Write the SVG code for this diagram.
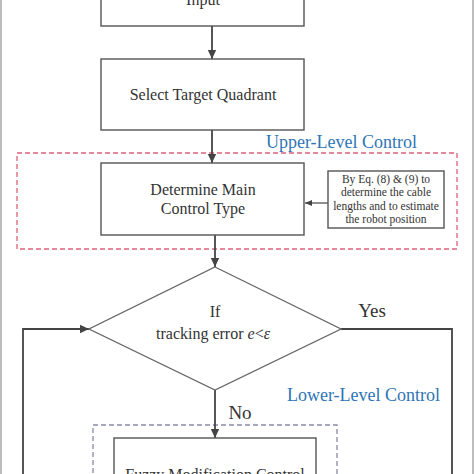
<svg xmlns="http://www.w3.org/2000/svg" width="474" height="474" viewBox="0 0 474 474">
<defs>
<style>
.box{fill:#fff;stroke:#555;stroke-width:1.4}
.t{font-family:"Liberation Serif","Times New Roman",serif;fill:#333;text-anchor:middle}
.c{stroke:#444;stroke-width:1.8;fill:none}
.lbl{font-family:"Liberation Serif","Times New Roman",serif;fill:#2e75b6;font-size:18px}
</style>
<marker id="ah" markerWidth="10" markerHeight="10" refX="9" refY="5" orient="auto" markerUnits="userSpaceOnUse">
<path d="M0,0.8 L9,5 L0,9.2 Z" fill="#444"/>
</marker>
<marker id="ahs" markerWidth="8" markerHeight="8" refX="7" refY="4" orient="auto" markerUnits="userSpaceOnUse">
<path d="M0,1 L7,4 L0,7 Z" fill="#444"/>
</marker>
</defs>
<rect x="0" y="0" width="474" height="474" fill="#fff"/>
<rect x="0" y="0" width="2" height="474" fill="#bdbdbd"/>
<rect x="472" y="0" width="2" height="474" fill="#bdbdbd"/>

<g id="upper-region">
<rect x="17" y="153" width="440" height="96" fill="none" stroke="#e0607a" stroke-width="1.3" stroke-dasharray="5,3"/>
<text class="lbl" x="266" y="148">Upper-Level Control</text>
</g>
<g id="lower-region">
<rect x="93" y="425" width="244" height="60" fill="none" stroke="#8a8aaa" stroke-width="1.3" stroke-dasharray="5,3"/>
<text class="lbl" x="287" y="401">Lower-Level Control</text>
</g>

<g id="connectors">
<line class="c" x1="212" y1="26" x2="212" y2="59" marker-end="url(#ah)"/>
<line class="c" x1="212" y1="130" x2="212" y2="163" marker-end="url(#ah)"/>
<line class="c" x1="215" y1="235" x2="215" y2="267" marker-end="url(#ah)"/>
<line x1="328" y1="203" x2="305" y2="203" stroke="#444" stroke-width="1.2" marker-end="url(#ahs)"/>
<line class="c" x1="215" y1="390" x2="215" y2="438" marker-end="url(#ah)"/>
<polyline class="c" points="341,329 452,329 452,480"/>
<polyline class="c" points="23,480 23,329 89,329" marker-end="url(#ah)"/>
<text class="t" x="372" y="317" style="font-size:19px">Yes</text>
<text class="t" x="240" y="419" style="font-size:19px">No</text>
</g>

<g id="input">
<rect class="box" x="101" y="-40" width="203" height="66"/>
<text class="t" x="203" y="5" font-size="16">Input</text>
</g>
<g id="select">
<rect class="box" x="101" y="59" width="203" height="71"/>
<text class="t" x="203" y="100" font-size="16">Select Target Quadrant</text>
</g>
<g id="determine">
<rect class="box" x="101" y="163" width="203" height="72"/>
<text class="t" x="203" y="195" font-size="16">Determine Main</text>
<text class="t" x="203" y="214" font-size="16">Control Type</text>
</g>
<g id="estimate">
<rect class="box" x="328" y="171" width="116" height="57"/>
<text class="t" x="386" y="183" font-size="11.5">By Eq. (8) &amp; (9) to</text>
<text class="t" x="386" y="196" font-size="11.5">determine the cable</text>
<text class="t" x="386" y="210" font-size="11.5">lengths and to estimate</text>
<text class="t" x="386" y="223" font-size="11.5">the robot position</text>
</g>
<g id="decision">
<polygon points="215,267 341,329 215,390 89,329" fill="#fff" stroke="#666" stroke-width="1.3"/>
<text class="t" x="215" y="317" font-size="16">If</text>
<text class="t" x="213" y="339" font-size="16">tracking error <tspan font-style="italic">e</tspan>&lt;<tspan font-style="italic">ε</tspan></text>
</g>
<g id="fuzzy">
<rect class="box" x="114" y="438" width="202" height="60"/>
<text class="t" x="215" y="480" font-size="16">Fuzzy Modification Control</text>
</g>
</svg>
